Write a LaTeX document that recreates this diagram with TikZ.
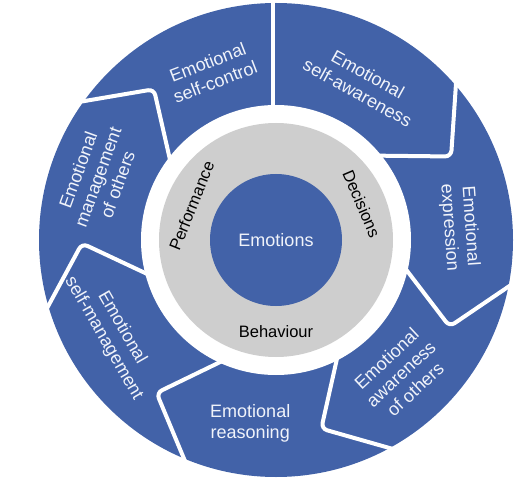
\documentclass[tikz,border=0pt]{standalone}
\usepackage{fontspec}
\setmainfont{Liberation Sans}
\definecolor{segblue}{RGB}{66,98,168}
\definecolor{ringgray}{RGB}{206,206,206}
\definecolor{softwhite}{RGB}{240,243,250}
\begin{document}
\begin{tikzpicture}[x=1pt,y=1pt,
  seglabel/.style={text=softwhite, font=\fontsize{18}{21}\selectfont, align=center, inner sep=0pt},
  ringlabel/.style={text=black, font=\fontsize{16.5}{19}\selectfont, inner sep=0pt},
  divider/.style={draw=white, line width=4pt, rounded corners=6pt, line join=round}]
\useasboundingbox (0,0) rectangle (520,483);
\coordinate (c) at (276,243);
% outer blue disk
\node[circle, fill=segblue, minimum size=474pt, inner sep=0pt] (outer) at (c) {};
% straight divider at the top
\draw[divider] ([shift={(c)}]-3,245) -- ([shift={(c)}]-3,125);
% chevron dividers
\foreach \a in {42.5,-9.5,-59.5,-111,-162,146}{
  \draw[divider, shift={(c)}] (\a:245) -- (\a-17:194) -- (\a:125);
}
% white ring, gray ring, centre
\node[circle, fill=white, minimum size=270pt, inner sep=0pt] (whitering) at (c) {};
\node[circle, fill=ringgray, minimum size=234pt, inner sep=0pt] (grayring) at (c) {};
\node[circle, fill=segblue, minimum size=132pt, inner sep=0pt, text=softwhite,
      font=\fontsize{18}{21}\selectfont] (emotions) at (c) {Emotions};
% ring labels
\node[ringlabel, rotate=68] (performance) at ([shift={(c)}]158:91) {Performance};
\node[ringlabel, rotate=-67] (decisions) at ([shift={(c)}]23:93) {Decisions};
\node[ringlabel] (behaviour) at ([shift={(c)}]-90:92) {Behaviour};
% segment labels
\node[seglabel, rotate=21] (selfcontrol) at ([shift={(c)}]111:180) {Emotional\\self-control};
\node[seglabel, rotate=-29] (selfawareness) at ([shift={(c)}]61:179) {Emotional\\self-awareness};
\node[seglabel, rotate=-86] (expression) at ([shift={(c)}]4:184) {Emotional\\expression};
\node[seglabel, rotate=43] (awareness) at ([shift={(c)}]-47:183) {Emotional\\awareness\\of others};
\node[seglabel] (reasoning) at ([shift={(c)}]-98:185) {Emotional\\reasoning};
\node[seglabel, rotate=-60] (selfmanagement) at ([shift={(c)}]209.7:188) {Emotional\\self-management};
\node[seglabel, rotate=70] (management) at ([shift={(c)}]160.6:189) {Emotional\\management\\of others};
\end{tikzpicture}
\end{document}
